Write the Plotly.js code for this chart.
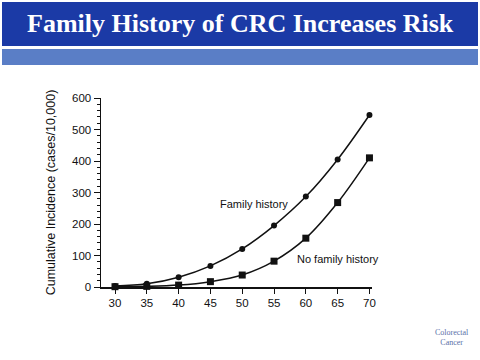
<!DOCTYPE html>
<html>
<head>
<meta charset="utf-8">
<script src="https://cdn.plot.ly/plotly-3.0.1.min.js"></script>
<style>html,body{margin:0;padding:0;background:#fff;}#chart{width:480px;height:360px;}</style>
</head>
<body>
<div id="chart"></div>
<script>
const ages = [30, 35, 40, 45, 50, 55, 60, 65, 70];
const familyHistory = [3, 10, 31, 67, 121, 195, 287, 405, 546];
const noFamilyHistory = [1, 2, 6, 17, 38, 82, 155, 268, 410];
const xTicks = [30, 35, 40, 45, 50, 55, 60, 65, 70];
const yTicks = [0, 100, 200, 300, 400, 500, 600];

const traces = [
  {x: ages, y: familyHistory, mode: 'lines+markers', type: 'scatter', line: {shape: 'spline', color: '#111', width: 1.5}, marker: {symbol: 'circle', size: 6, color: '#111'}, cliponaxis: false, name: 'Family history'},
  {x: ages, y: noFamilyHistory, mode: 'lines+markers', type: 'scatter', line: {shape: 'spline', color: '#111', width: 1.5}, marker: {symbol: 'square', size: 7, color: '#111'}, cliponaxis: false, name: 'No family history'}
];

// plot area: x 101..372, y 98..287
const pw = 480 - 101 - 108, ph = 360 - 98 - 73;
function px(x){return (x - 101)/pw;}
function py(y){return (287 - y)/ph;}

const layout = {
  width: 480, height: 360,
  margin: {l: 101, r: 108, t: 98, b: 73},
  paper_bgcolor: '#fff', plot_bgcolor: '#fff',
  showlegend: false,
  font: {family: 'Liberation Sans, Arial, sans-serif', color: '#111', size: 11.5},
  xaxis: {range: [27.8, 70.4], tickvals: xTicks, ticks: 'outside', ticklen: 5, tickcolor: '#111', showgrid: false, zeroline: false, showline: true, linecolor: '#111', linewidth: 1.5, tickfont: {size: 11.5}},
  yaxis: {range: [0, 600], tickvals: yTicks, ticks: 'outside', ticklen: 6, tickcolor: '#111', showgrid: false, zeroline: false, showline: true, linecolor: '#111', linewidth: 1.5, tickfont: {size: 11.5},
    minor: {dtick: 20, ticks: 'outside', ticklen: 3, tickcolor: '#111', showgrid: false},
    title: {text: 'Cumulative Incidence (cases/10,000)', font: {size: 12.5}, standoff: 13}},
  shapes: [
    {type: 'rect', xref: 'paper', yref: 'paper', x0: px(2), x1: px(478), y0: py(2), y1: py(46), fillcolor: '#1b3aa6', line: {width: 0}, layer: 'below'},
    {type: 'rect', xref: 'paper', yref: 'paper', x0: px(2), x1: px(478), y0: py(49), y1: py(65), fillcolor: '#5a7ec6', line: {width: 0}, layer: 'below'}
  ],
  annotations: [
    {text: 'Family history', x: 51.8, y: 263, xref: 'x', yref: 'y', showarrow: false, font: {size: 11}, xanchor: 'center'},
    {text: 'No family history', x: 65.0, y: 89, xref: 'x', yref: 'y', showarrow: false, font: {size: 11}, xanchor: 'center'},
    {text: '<b>Family History of CRC Increases Risk</b>', xref: 'paper', yref: 'paper', x: px(240), xanchor: 'center', y: py(23), yanchor: 'middle', showarrow: false, font: {family: 'Liberation Serif, Times New Roman, serif', size: 26, color: '#fff'}},
    {text: 'Colorectal<br>Cancer', xref: 'paper', yref: 'paper', x: px(452), y: py(337), showarrow: false, font: {family: 'Liberation Serif, serif', size: 8, color: '#5a6fa8'}, xanchor: 'center', yanchor: 'middle'}
  ]
};

Plotly.newPlot('chart', traces, layout, {displayModeBar: false, staticPlot: true});
</script>
</body>
</html>
